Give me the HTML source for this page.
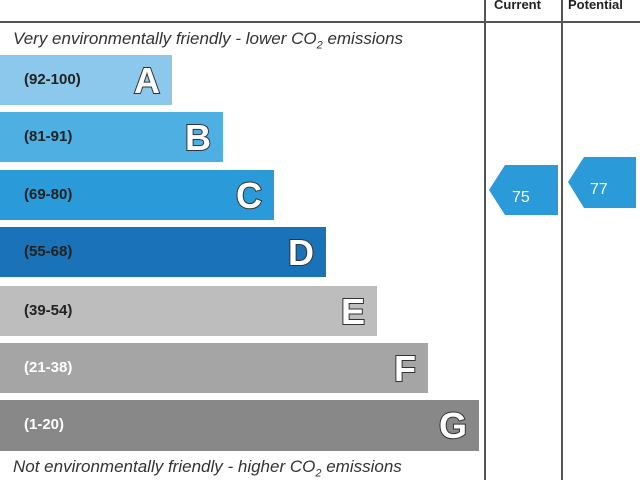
<!DOCTYPE html>
<html><head><style>
body{margin:0;width:640px;height:480px;background:#fff;position:relative;overflow:hidden;font-family:"Liberation Sans",sans-serif}
.l{position:absolute;background:#555}
.bar{position:absolute;left:0;height:50px}
.bar .r{position:absolute;left:24px;top:16px;font-size:15px;font-weight:bold;color:#222}
.bar .k{position:absolute;right:12px;top:5px;font-size:36px;font-weight:bold;color:#fff;-webkit-text-stroke:2px #333;paint-order:stroke fill}
.it{position:absolute;left:13px;font-style:italic;font-size:17px;color:#333}
.hd{position:absolute;top:-3px;font-size:13px;font-weight:bold;color:#222}
</style></head><body>
<div class="l" style="left:484px;top:0;width:2px;height:480px"></div>
<div class="l" style="left:561px;top:0;width:2px;height:480px"></div>
<div class="l" style="left:0;top:21px;width:640px;height:2px"></div>
<div class="hd" style="left:494px">Current</div>
<div class="hd" style="left:568px">Potential</div>
<div class="it" style="top:29px">Very environmentally friendly - lower CO<sub style="font-size:11px">2</sub> emissions</div>
<div class="it" style="top:457px">Not environmentally friendly - higher CO<sub style="font-size:11px">2</sub> emissions</div>
<div class="bar" style="top:55px;width:172px;background:#8cc8ec"><span class="r">(92-100)</span><span class="k">A</span></div>
<div class="bar" style="top:112px;width:223px;background:#4eafe2"><span class="r">(81-91)</span><span class="k">B</span></div>
<div class="bar" style="top:170px;width:274px;background:#2a9ad8"><span class="r">(69-80)</span><span class="k">C</span></div>
<div class="bar" style="top:227px;width:326px;background:#1a72b8"><span class="r">(55-68)</span><span class="k">D</span></div>
<div class="bar" style="top:286px;width:377px;background:#bdbdbd"><span class="r">(39-54)</span><span class="k">E</span></div>
<div class="bar" style="top:343px;width:428px;background:#a5a5a5"><span class="r" style="color:#fff">(21-38)</span><span class="k">F</span></div>
<div class="bar" style="top:400px;width:479px;height:51px;background:#888"><span class="r" style="color:#fff">(1-20)</span><span class="k">G</span></div>
<svg style="position:absolute;left:0;top:0" width="640" height="480">
<polygon points="489,190 505,165 558,165 558,215 505,215" fill="#2a9ad8"/>
<text x="512" y="202" font-size="16" fill="#fff" font-family="Liberation Sans">75</text>
<polygon points="568,182 584,157 636,157 636,208 584,208" fill="#2a9ad8"/>
<text x="590" y="194" font-size="16" fill="#fff" font-family="Liberation Sans">77</text>
</svg>
</body></html>
